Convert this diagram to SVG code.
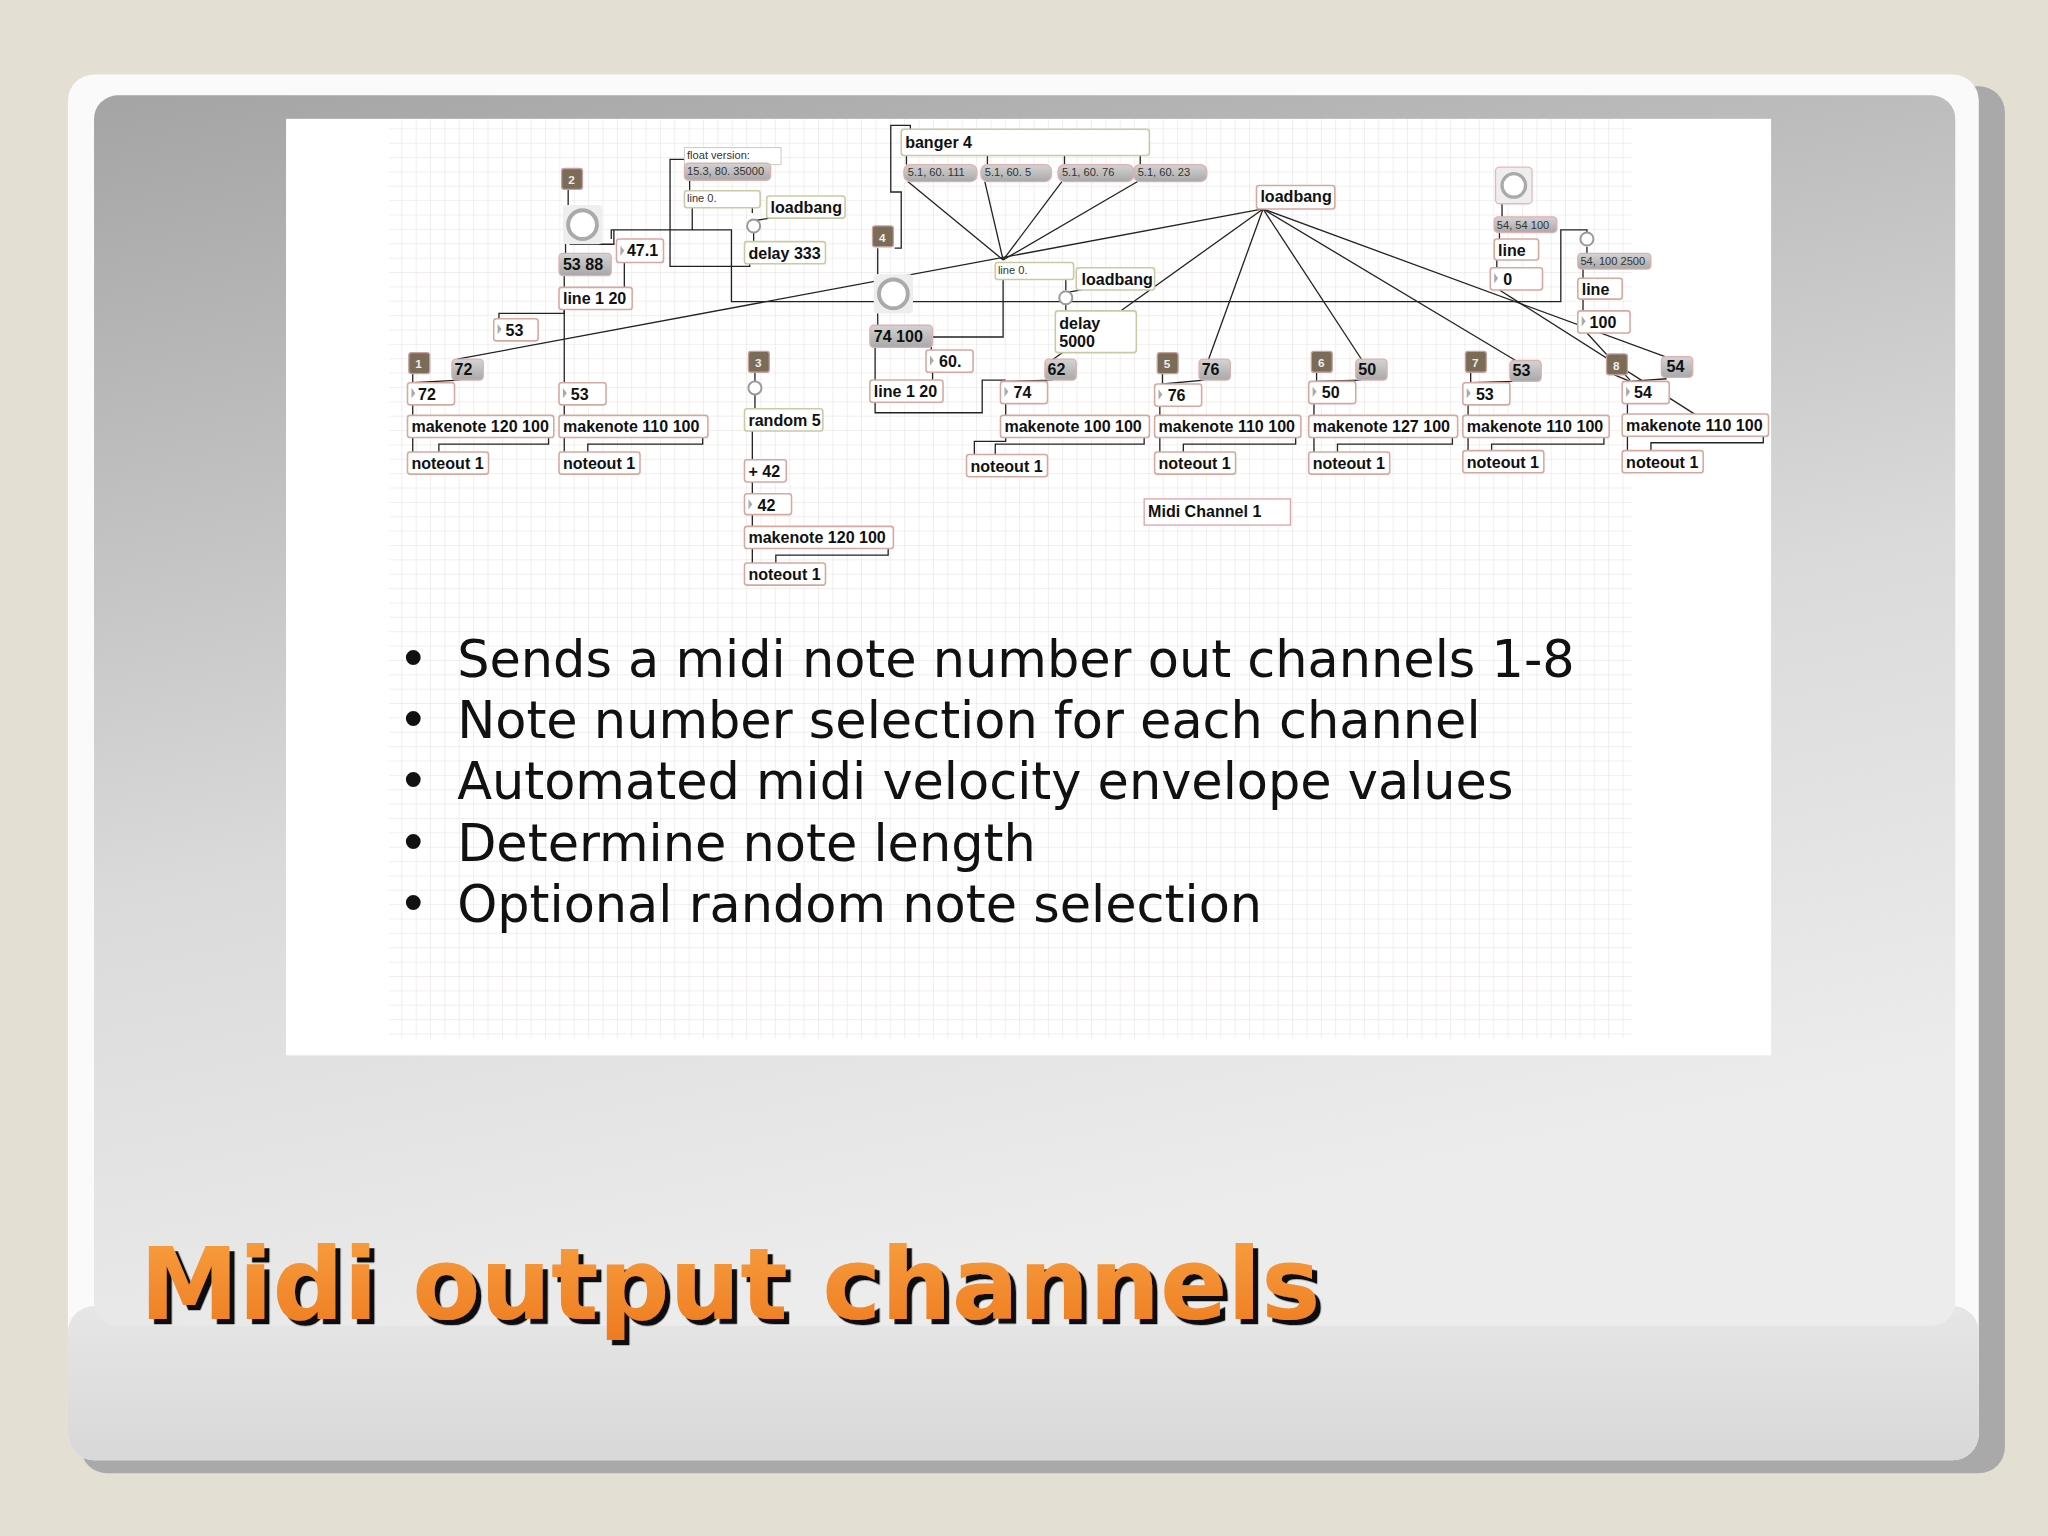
<svg xmlns="http://www.w3.org/2000/svg" width="2048" height="1536" viewBox="0 0 2048 1536">
<defs>
<linearGradient id="panel" x1="0" y1="0" x2="0.3" y2="1"><stop offset="0" stop-color="#a4a4a4"/><stop offset="0.6" stop-color="#dadada"/><stop offset="1" stop-color="#ececec"/></linearGradient>
<linearGradient id="foot" x1="0" y1="0" x2="0" y2="1"><stop offset="0" stop-color="#e6e6e6"/><stop offset="1" stop-color="#d8d8d8"/></linearGradient>
<linearGradient id="msg" x1="0" y1="0" x2="0" y2="1"><stop offset="0" stop-color="#d4d4d4"/><stop offset="1" stop-color="#a8a8a8"/></linearGradient>
<linearGradient id="title" x1="0" y1="0" x2="0" y2="1"><stop offset="0" stop-color="#f7a040"/><stop offset="1" stop-color="#ee7a20"/></linearGradient>
<filter id="sh" x="-5%" y="-20%" width="110%" height="140%"><feDropShadow dx="4" dy="4" stdDeviation="0.5" flood-color="#111" flood-opacity="1"/></filter>
<pattern id="grid" width="11" height="11" patternUnits="userSpaceOnUse"><path d="M11 0V11H0" fill="none" stroke="#e6dede" stroke-width="0.8"/></pattern>
<style>
.o{fill:#fff;stroke:#d6a9a0;stroke-width:1.2}
.g{fill:#fff;stroke:#c9c9a6;stroke-width:1.2}
.m{fill:url(#msg);stroke:#e0b0b0;stroke-width:1}
.t{fill:#7a6c56;stroke:#c8a0a0;stroke-width:1}
.b{font-family:"Liberation Sans",Arial,sans-serif;font-weight:bold;font-size:12.3px;fill:#111}
.s{font-family:"Liberation Sans",Arial,sans-serif;font-size:8.5px;fill:#333}
.w{font-family:"Liberation Sans",Arial,sans-serif;font-weight:bold;font-size:9px;fill:#eee}
.c path,.c line{fill:none;stroke:#222;stroke-width:1}
.bul{font-family:"DejaVu Sans",Verdana,sans-serif;font-size:39px;fill:#111}
</style>
</defs>
<rect width="2048" height="1536" fill="#e3dfd2"/>
<g transform="scale(1.306122)">
<rect x="62" y="66" width="1473" height="1062" rx="20" fill="#a9a9a9"/>
<rect x="52" y="57" width="1463" height="1061" rx="20" fill="#fafafa"/>
<rect x="52" y="1000" width="1463" height="118" rx="20" fill="url(#foot)"/>
<rect x="72" y="73" width="1425" height="942" rx="18" fill="url(#panel)"/>
<rect x="219" y="91" width="1137" height="717" fill="#fff"/>
<rect x="298" y="91" width="952" height="704" fill="url(#grid)"/>

<g class="c">
<line x1="435" y1="145" x2="435" y2="158"/>
<path d="M436 187H470V176"/>
<line x1="433" y1="186" x2="433" y2="194"/>
<line x1="432" y1="211" x2="432" y2="220"/>
<line x1="478" y1="201" x2="478" y2="220"/>
<path d="M432 237V240H382V244"/>
<line x1="432" y1="237" x2="432" y2="293"/>
<path d="M530 159V176M468 183V176H560V231H1195V176H1215V178"/>
<path d="M574 202V204H513V122H526"/>
<line x1="528" y1="138" x2="528" y2="146"/>
<path d="M590 167L577 169"/>
<line x1="577" y1="178" x2="577" y2="185"/>
<line x1="576" y1="159" x2="576" y2="163"/>
<path d="M685 190H690V147H682V96H697V99"/>
<line x1="694" y1="119" x2="694" y2="126"/><line x1="756" y1="119" x2="756" y2="126"/><line x1="815" y1="119" x2="815" y2="126"/><line x1="873" y1="119" x2="873" y2="126"/>
<line x1="695" y1="139" x2="768" y2="199"/><line x1="754" y1="139" x2="768" y2="199"/><line x1="813" y1="139" x2="768" y2="199"/><line x1="871" y1="139" x2="768" y2="199"/>
<line x1="967" y1="160" x2="350" y2="275"/>
<line x1="967" y1="160" x2="805" y2="276"/>
<line x1="967" y1="160" x2="925" y2="276"/>
<line x1="967" y1="160" x2="1043" y2="276"/>
<line x1="967" y1="160" x2="1162" y2="277"/>
<line x1="967" y1="160" x2="1280" y2="275"/>
<path d="M768 214V258H713V268"/>
<path d="M828 222L816 224"/>
<line x1="816" y1="214" x2="816" y2="222"/>
<line x1="816" y1="233" x2="816" y2="238"/>
<line x1="672" y1="190" x2="672" y2="210"/>
<line x1="672" y1="238" x2="672" y2="249"/>
<line x1="670" y1="266" x2="670" y2="291"/>
<line x1="714" y1="285" x2="714" y2="291"/>
<path d="M670 308V316H752V291H770"/>
<line x1="1150" y1="156" x2="1150" y2="166"/>
<line x1="1148" y1="178" x2="1148" y2="183"/>
<line x1="1146" y1="199" x2="1146" y2="205"/>
<line x1="1148" y1="222" x2="1299" y2="318"/>
<line x1="1215" y1="189" x2="1215" y2="194"/>
<line x1="1212" y1="206" x2="1212" y2="213"/>
<line x1="1212" y1="229" x2="1212" y2="238"/>
<line x1="1215" y1="255" x2="1248" y2="291"/>
<path d="M316 286V293M352 291L316 293M316 310V318M316 335V346M420 335V340H336V346"/>
<path d="M432 310V318M432 335V346M538 335V340H450V346"/>
<path d="M578 285V292M578 302V313M576 330V352M576 369V378M576 394V403M576 420V431M680 420V425H594V431"/>
<path d="M770 309V318M770 335V338H746V348M876 335V340H762V348M806 291L770 292"/>
<path d="M890 286V294M922 291L890 294M888 311V318M888 335V346M992 335V340H906V346"/>
<path d="M1008 285V292M1042 291L1008 292M1006 309V318M1006 335V346M1112 335V340H1024V346"/>
<path d="M1126 285V293M1160 292L1126 293M1124 310V318M1124 335V345M1228 335V340H1142V345"/>
<path d="M1236 287L1248 292M1276 290L1248 292M1246 309V317M1246 334V345M1350 334V339H1264V345"/>
</g>

<g id="t1"><rect class="t" x="313" y="270" width="16" height="16" rx="2"/><text class="w" x="318" y="282">1</text></g>
<g id="m72a"><rect class="m" x="346" y="275" width="24" height="16" rx="3"/><text class="b" x="348" y="287">72</text></g>
<g id="n72"><rect class="o" x="312" y="293" width="36" height="17" rx="2"/><path d="M315 297l3 4l-3 4z" fill="#aaa"/><text class="b" x="320" y="306">72</text></g>
<g id="mk1"><rect class="o" x="312" y="318" width="112" height="17" rx="2"/><text class="b" x="315" y="331">makenote 120 100</text></g>
<g id="no1"><rect class="o" x="312" y="346" width="62" height="17" rx="2"/><text class="b" x="315" y="359">noteout 1</text></g>
<g id="t2"><rect class="t" x="430" y="129" width="16" height="16" rx="2"/><text class="w" x="435" y="141">2</text></g>
<g id="bang2"><rect x="431" y="157" width="30" height="30" rx="3" fill="#eee"/><circle cx="446" cy="172" r="11" fill="#fff" stroke="#aaa" stroke-width="3"/></g>
<g id="m5388"><rect class="m" x="428" y="194" width="40" height="17" rx="3"/><text class="b" x="431" y="207">53 88</text></g>
<g id="n471"><rect class="o" x="472" y="183" width="36" height="18" rx="2"/><path d="M475 188l3 4l-3 4z" fill="#aaa"/><text class="b" x="480" y="196">47.1</text></g>
<g id="l120a"><rect class="o" x="428" y="220" width="56" height="17" rx="2"/><text class="b" x="431" y="233">line 1 20</text></g>
<g id="n53a"><rect class="o" x="378" y="244" width="34" height="17" rx="2"/><path d="M381 248l3 4l-3 4z" fill="#aaa"/><text class="b" x="387" y="257">53</text></g>
<g id="n53b"><rect class="o" x="428" y="293" width="36" height="17" rx="2"/><path d="M431 297l3 4l-3 4z" fill="#aaa"/><text class="b" x="437" y="306">53</text></g>
<g id="mk2"><rect class="o" x="428" y="318" width="114" height="17" rx="2"/><text class="b" x="431" y="331">makenote 110 100</text></g>
<g id="no2"><rect class="o" x="428" y="346" width="62" height="17" rx="2"/><text class="b" x="431" y="359">noteout 1</text></g>
<g id="fv"><rect x="524" y="113" width="74" height="13" fill="#fff" stroke="#ccc" stroke-width="0.8"/><text class="s" x="526" y="122">float version:</text></g>
<g id="m153"><rect class="m" x="524" y="125" width="66" height="13" rx="3"/><text class="s" x="526" y="134">15.3, 80. 35000</text></g>
<g id="l0a"><rect class="g" x="524" y="146" width="58" height="13" rx="2"/><text class="s" x="526" y="155">line 0.</text></g>
<g id="lb1"><rect class="g" x="587" y="150" width="60" height="17" rx="2"/><text class="b" x="590" y="163">loadbang</text></g>
<g id="sb1"><circle cx="577" cy="173" r="5" fill="#fff" stroke="#999" stroke-width="1.5"/></g>
<g id="d333"><rect class="g" x="570" y="185" width="62" height="17" rx="2"/><text class="b" x="573" y="198">delay 333</text></g>
<g id="t3"><rect class="t" x="573" y="269" width="16" height="16" rx="2"/><text class="w" x="578" y="281">3</text></g>
<g id="sb3"><circle cx="578" cy="297" r="5" fill="#fff" stroke="#999" stroke-width="1.5"/></g>
<g id="r5"><rect class="g" x="570" y="313" width="60" height="17" rx="2"/><text class="b" x="573" y="326">random 5</text></g>
<g id="p42"><rect class="o" x="570" y="352" width="32" height="17" rx="2"/><text class="b" x="573" y="365">+ 42</text></g>
<g id="n42"><rect class="o" x="570" y="378" width="36" height="16" rx="2"/><path d="M573 382l3 4l-3 4z" fill="#aaa"/><text class="b" x="580" y="391">42</text></g>
<g id="mk3"><rect class="o" x="570" y="403" width="114" height="17" rx="2"/><text class="b" x="573" y="416">makenote 120 100</text></g>
<g id="no3"><rect class="o" x="570" y="431" width="62" height="17" rx="2"/><text class="b" x="573" y="444">noteout 1</text></g>
<g id="banger"><rect class="g" x="690" y="99" width="190" height="20" rx="2"/><text class="b" x="693" y="113">banger 4</text></g>
<g id="bm1"><rect class="m" x="692" y="126" width="56" height="13" rx="5"/><text class="s" x="695" y="135">5.1, 60. 111</text></g>
<g id="bm2"><rect class="m" x="751" y="126" width="54" height="13" rx="5"/><text class="s" x="754" y="135">5.1, 60. 5</text></g>
<g id="bm3"><rect class="m" x="810" y="126" width="58" height="13" rx="5"/><text class="s" x="813" y="135">5.1, 60. 76</text></g>
<g id="bm4"><rect class="m" x="868" y="126" width="56" height="13" rx="5"/><text class="s" x="871" y="135">5.1, 60. 23</text></g>
<g id="t4"><rect class="t" x="668" y="173" width="16" height="16" rx="2"/><text class="w" x="673" y="185">4</text></g>
<g id="bang4"><rect x="669" y="210" width="30" height="30" rx="3" fill="#eee"/><circle cx="684" cy="225" r="11" fill="#fff" stroke="#aaa" stroke-width="3"/></g>
<g id="m74100"><rect class="m" x="666" y="249" width="48" height="17" rx="3"/><text class="b" x="669" y="262">74 100</text></g>
<g id="n60"><rect class="o" x="709" y="268" width="36" height="17" rx="2"/><path d="M712 272l3 4l-3 4z" fill="#aaa"/><text class="b" x="719" y="281">60.</text></g>
<g id="l120b"><rect class="o" x="666" y="291" width="56" height="17" rx="2"/><text class="b" x="669" y="304">line 1 20</text></g>
<g id="l0b"><rect class="g" x="762" y="201" width="60" height="13" rx="2"/><text class="s" x="764" y="210">line 0.</text></g>
<g id="lb2"><rect class="g" x="824" y="205" width="60" height="17" rx="2"/><text class="b" x="828" y="218">loadbang</text></g>
<g id="sb4"><circle cx="816" cy="228" r="5" fill="#fff" stroke="#999" stroke-width="1.5"/></g>
<g id="d5000"><rect class="g" x="808" y="238" width="62" height="32" rx="2"/><text class="b" x="811" y="252">delay</text><text class="b" x="811" y="266">5000</text></g>
<g id="m62"><rect class="m" x="800" y="275" width="24" height="16" rx="3"/><text class="b" x="802" y="287">62</text></g>
<g id="n74"><rect class="o" x="766" y="292" width="36" height="17" rx="2"/><path d="M769 296l3 4l-3 4z" fill="#aaa"/><text class="b" x="776" y="305">74</text></g>
<g id="mk4"><rect class="o" x="766" y="318" width="114" height="17" rx="2"/><text class="b" x="769" y="331">makenote 100 100</text></g>
<g id="no4"><rect class="o" x="740" y="348" width="62" height="17" rx="2"/><text class="b" x="743" y="361">noteout 1</text></g>
<g id="lb3"><rect class="o" x="962" y="142" width="60" height="18" rx="2"/><text class="b" x="965" y="155">loadbang</text></g>
<g id="t5"><rect class="t" x="886" y="270" width="16" height="16" rx="2"/><text class="w" x="891" y="282">5</text></g>
<g id="m76"><rect class="m" x="918" y="275" width="24" height="16" rx="3"/><text class="b" x="920" y="287">76</text></g>
<g id="n76"><rect class="o" x="884" y="294" width="36" height="17" rx="2"/><path d="M887 298l3 4l-3 4z" fill="#aaa"/><text class="b" x="894" y="307">76</text></g>
<g id="mk5"><rect class="o" x="884" y="318" width="112" height="17" rx="2"/><text class="b" x="887" y="331">makenote 110 100</text></g>
<g id="no5"><rect class="o" x="884" y="346" width="62" height="17" rx="2"/><text class="b" x="887" y="359">noteout 1</text></g>
<g id="mc"><rect x="876" y="382" width="112" height="20" fill="#fff" stroke="#e0a0a8" stroke-width="1"/><text class="b" x="879" y="396">Midi Channel 1</text></g>
<g id="t6"><rect class="t" x="1004" y="269" width="16" height="16" rx="2"/><text class="w" x="1009" y="281">6</text></g>
<g id="m50"><rect class="m" x="1038" y="275" width="24" height="16" rx="3"/><text class="b" x="1040" y="287">50</text></g>
<g id="n50"><rect class="o" x="1002" y="292" width="36" height="17" rx="2"/><path d="M1005 296l3 4l-3 4z" fill="#aaa"/><text class="b" x="1012" y="305">50</text></g>
<g id="mk6"><rect class="o" x="1002" y="318" width="114" height="17" rx="2"/><text class="b" x="1005" y="331">makenote 127 100</text></g>
<g id="no6"><rect class="o" x="1002" y="346" width="62" height="17" rx="2"/><text class="b" x="1005" y="359">noteout 1</text></g>
<g id="t7"><rect class="t" x="1122" y="269" width="16" height="16" rx="2"/><text class="w" x="1127" y="281">7</text></g>
<g id="m53c"><rect class="m" x="1156" y="276" width="24" height="16" rx="3"/><text class="b" x="1158" y="288">53</text></g>
<g id="n53c"><rect class="o" x="1120" y="293" width="36" height="17" rx="2"/><path d="M1123 297l3 4l-3 4z" fill="#aaa"/><text class="b" x="1130" y="306">53</text></g>
<g id="mk7"><rect class="o" x="1120" y="318" width="112" height="17" rx="2"/><text class="b" x="1123" y="331">makenote 110 100</text></g>
<g id="no7"><rect class="o" x="1120" y="345" width="62" height="17" rx="2"/><text class="b" x="1123" y="358">noteout 1</text></g>
<g id="t8"><rect class="t" x="1230" y="271" width="16" height="16" rx="2"/><text class="w" x="1235" y="283">8</text></g>
<g id="m54"><rect class="m" x="1272" y="273" width="24" height="16" rx="3"/><text class="b" x="1276" y="285">54</text></g>
<g id="n54"><rect class="o" x="1242" y="292" width="36" height="17" rx="2"/><path d="M1245 296l3 4l-3 4z" fill="#aaa"/><text class="b" x="1251" y="305">54</text></g>
<g id="mk8"><rect class="o" x="1242" y="317" width="112" height="17" rx="2"/><text class="b" x="1245" y="330">makenote 110 100</text></g>
<g id="no8"><rect class="o" x="1242" y="345" width="62" height="17" rx="2"/><text class="b" x="1245" y="358">noteout 1</text></g>
<g id="bang8"><rect x="1145" y="128" width="28" height="28" rx="3" fill="#eee" stroke="#e8b8b8"/><circle cx="1159" cy="142" r="9" fill="#fff" stroke="#aaa" stroke-width="2.5"/></g>
<g id="m5454"><rect class="m" x="1144" y="166" width="48" height="12" rx="3"/><text class="s" x="1146" y="175">54, 54 100</text></g>
<g id="lnA"><rect class="o" x="1144" y="183" width="34" height="16" rx="2"/><text class="b" x="1147" y="196">line</text></g>
<g id="n0"><rect class="o" x="1141" y="205" width="40" height="17" rx="2"/><path d="M1144 209l3 4l-3 4z" fill="#aaa"/><text class="b" x="1151" y="218">0</text></g>
<g id="sb8"><circle cx="1215" cy="183" r="5" fill="#fff" stroke="#999" stroke-width="1.5"/></g>
<g id="m54100"><rect class="m" x="1208" y="194" width="56" height="12" rx="3"/><text class="s" x="1210" y="203">54, 100 2500</text></g>
<g id="lnB"><rect class="o" x="1208" y="213" width="34" height="16" rx="2"/><text class="b" x="1211" y="226">line</text></g>
<g id="n100"><rect class="o" x="1208" y="238" width="40" height="17" rx="2"/><path d="M1211 242l3 4l-3 4z" fill="#aaa"/><text class="b" x="1217" y="251">100</text></g>

<g id="bullets">
<text class="bul" x="305" y="518">•</text><text class="bul" x="350" y="518">Sends a midi note number out channels 1-8</text>
<text class="bul" x="305" y="565">•</text><text class="bul" x="350" y="565">Note number selection for each channel</text>
<text class="bul" x="305" y="612">•</text><text class="bul" x="350" y="612">Automated midi velocity envelope values</text>
<text class="bul" x="305" y="659">•</text><text class="bul" x="350" y="659">Determine note length</text>
<text class="bul" x="305" y="706">•</text><text class="bul" x="350" y="706">Optional random note selection</text>
</g>
<text x="107" y="1010" filter="url(#sh)" fill="url(#title)" font-family="'DejaVu Sans',Verdana,sans-serif" font-weight="bold" font-size="76">Midi output channels</text>
</g>
</svg>
